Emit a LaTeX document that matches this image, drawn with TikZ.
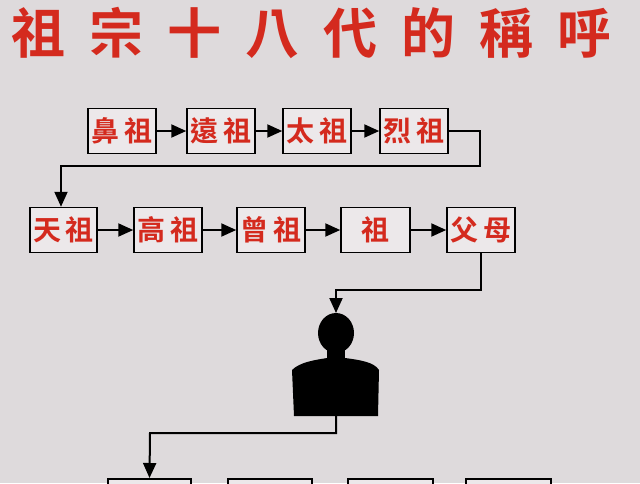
\documentclass[tikz,border=0pt]{standalone}
\usepackage{fontspec}
\newfontfamily\cjk{Noto Sans CJK TC Bold}
\usetikzlibrary{arrows.meta}
\definecolor{bg}{HTML}{DEDADC}
\definecolor{boxfill}{HTML}{ECE8EA}
\definecolor{txt}{HTML}{D42A1E}
\begin{document}
\begin{tikzpicture}[x=1pt,y=-1pt,
  kin/.style={draw=black,line width=1.5pt,fill=boxfill,minimum width=68pt,minimum height=45pt,inner sep=0pt,text=txt,font=\cjk\fontsize{28}{28}\selectfont},
  conn/.style={line width=2pt,-{Triangle[length=15pt,width=13pt]}}]
\fill[bg] (0,0) rectangle (640,483);
\useasboundingbox (0,0) rectangle (640,483);
\node[text=txt,font=\cjk\fontsize{54}{54}\selectfont,anchor=west] (title) at (8,33) {祖\hspace{24pt}宗\hspace{24pt}十\hspace{24pt}八\hspace{24pt}代\hspace{24pt}的\hspace{24pt}稱\hspace{24pt}呼};
% row 1
\node[kin] (b1) at (122,131) {鼻\hspace{5pt}祖};
\node[kin] (b2) at (221,131) {遠\hspace{5pt}祖};
\node[kin] (b3) at (317,131) {太\hspace{5pt}祖};
\node[kin] (b4) at (414,131) {烈\hspace{5pt}祖};
% row 2
\node[kin,minimum width=67pt] (c1) at (63.5,230) {天\hspace{5pt}祖};
\node[kin] (c2) at (168,230) {高\hspace{5pt}祖};
\node[kin] (c3) at (271,230) {曾\hspace{5pt}祖};
\node[kin,minimum width=69pt] (c4) at (375.5,230) {祖};
\node[kin] (c5) at (481,230) {父\hspace{5pt}母};
% bottom row (cut off)
\node[kin,minimum width=83pt,anchor=north] (d1) at (149.5,478) {};
\node[kin,minimum width=84pt,anchor=north] (d2) at (270,478) {};
\node[kin,minimum width=85pt,anchor=north] (d3) at (390.5,478) {};
\node[kin,minimum width=85pt,anchor=north] (d4) at (508.5,478) {};
% person
\coordinate (me) at (336,313);
\coordinate (mebot) at (336,416);
\fill[black] (336,333) ellipse (18pt and 20pt);
\fill[black] (327,345) rectangle (345,365);
\fill[black] (294,416) -- (292,370) .. controls (300,362) and (315,360) .. (327,358) -- (345,358) .. controls (360,360) and (374,362) .. (379,370) -- (378,416) -- cycle;
% connectors
\draw[conn] (b1) -- (b2);
\draw[conn] (b2) -- (b3);
\draw[conn] (b3) -- (b4);
\draw[conn] (b4.east) -| (480,166) -| ([xshift=-2.5pt]c1.north);
\draw[conn] (c1) -- (c2);
\draw[conn] (c2) -- (c3);
\draw[conn] (c3) -- (c4);
\draw[conn] (c4) -- (c5);
\draw[conn] (c5.south) |- (336,290) -- (me);
\draw[conn] (mebot) |- (150,433) -- (d1.north);
\end{tikzpicture}
\end{document}
